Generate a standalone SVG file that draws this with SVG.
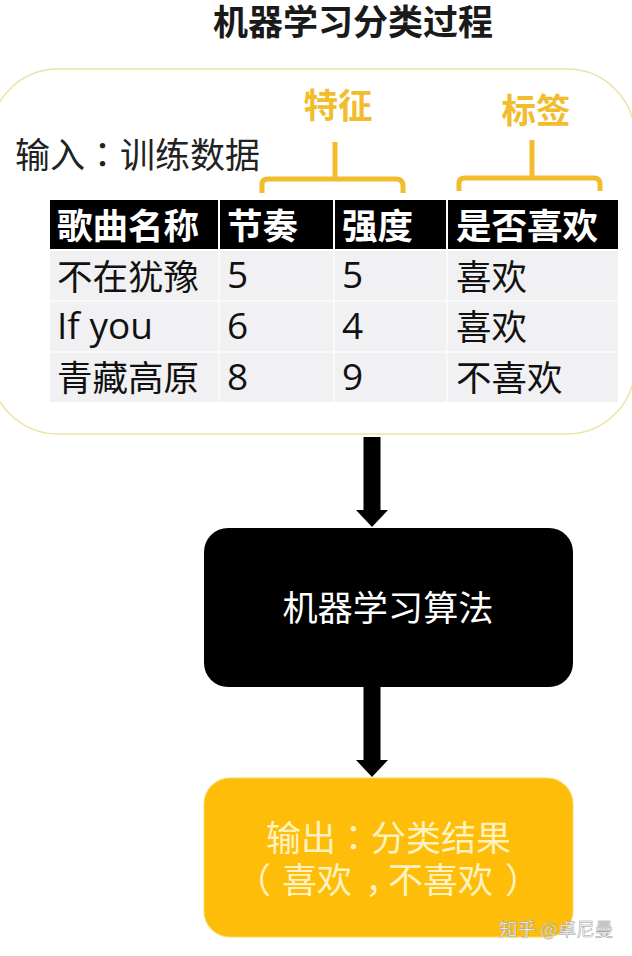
<svg xmlns="http://www.w3.org/2000/svg" width="632" height="956" viewBox="0 0 632 956">
<style>
text{font-family:"Noto Sans CJK SC","Liberation Sans",sans-serif}
.p{font-family:"Noto Sans CJK TC","Liberation Sans",sans-serif}
.h{font-size:35.5px;font-weight:700;fill:#fff}
.c{font-size:35.5px;fill:#111}
.n{font-size:37px;fill:#111;font-family:"Open Sans","Noto Sans","Liberation Sans",sans-serif}
.y{font-size:34.5px;font-weight:700;fill:#f2bc2c}
.b{fill:none;stroke:#f2bc2c;stroke-width:5}
.cell{fill:#f1f1f3}
.w{font-size:35.2px;fill:#fff}
.yw{font-size:35px;fill:#fff2c0}
.shaft{stroke:#000;stroke-width:17;fill:none}
</style>
<rect width="632" height="956" fill="#fff"/>
<text x="353" y="35" text-anchor="middle" font-size="35" font-weight="700" fill="#1a1a1a">机器学习分类过程</text>
<g id="connectors">
<path class="shaft" d="M372 437V511"/>
<path d="M356 510H388L372 527Z" fill="#000"/>
<path class="shaft" d="M372 686V761"/>
<path d="M356 760H388L372 777Z" fill="#000"/>
</g>
<g id="input">
<rect x="-10" y="69" width="645" height="365" rx="68" fill="#fff" stroke="#ece3a8" stroke-width="1.5"/>
<text x="15" y="168" font-size="35" fill="#222">输入<tspan class="p">：</tspan>训练数据</text>
<g id="feature-label">
<text x="338" y="118" text-anchor="middle" class="y">特征</text>
<path class="b" d="M335 142V177"/><path class="b" d="M262 193V184Q262 179 268 179H396Q403 179 403 186V193"/>
</g>
<g id="tag-label">
<text x="536" y="123" text-anchor="middle" class="y">标签</text>
<path class="b" d="M532 140V176"/><path class="b" d="M459 191V183Q459 178 465 178H594Q600 178 600 184V191"/>
</g>
<g id="table">
<rect x="50" y="251" width="568" height="151" fill="#f9f9fa"/>
<rect x="50" y="200" width="168" height="49"/><rect x="220" y="200" width="113" height="49"/><rect x="335" y="200" width="111" height="49"/><rect x="448" y="200" width="170" height="49"/>
<g class="cell">
<rect x="50" y="251" width="168" height="49"/><rect x="220" y="251" width="113" height="49"/><rect x="335" y="251" width="111" height="49"/><rect x="448" y="251" width="170" height="49"/>
<rect x="50" y="302" width="168" height="49"/><rect x="220" y="302" width="113" height="49"/><rect x="335" y="302" width="111" height="49"/><rect x="448" y="302" width="170" height="49"/>
<rect x="50" y="353" width="168" height="49"/><rect x="220" y="353" width="113" height="49"/><rect x="335" y="353" width="111" height="49"/><rect x="448" y="353" width="170" height="49"/>
</g>
<text x="57" y="239" class="h">歌曲名称</text><text x="227" y="239" class="h">节奏</text><text x="342" y="239" class="h">强度</text><text x="456" y="239" class="h">是否喜欢</text>
<text x="57" y="290" class="c">不在犹豫</text><text x="227" y="288" class="n">5</text><text x="342" y="288" class="n">5</text><text x="456" y="290" class="c">喜欢</text>
<text x="57" y="339" class="n">If you</text><text x="227" y="339" class="n">6</text><text x="342" y="339" class="n">4</text><text x="456" y="340" class="c">喜欢</text>
<text x="57" y="391" class="c">青藏高原</text><text x="227" y="390" class="n">8</text><text x="342" y="390" class="n">9</text><text x="456" y="391" class="c">不喜欢</text>
</g>
</g>
<g id="algorithm">
<rect x="204" y="528" width="369" height="159" rx="24" fill="#000"/>
<text x="388" y="621" text-anchor="middle" class="w">机器学习算法</text>
</g>
<g id="output">
<rect x="204" y="778" width="369" height="159" rx="26" fill="#fdbd08" stroke="#fcd65a" stroke-width="1"/>
<text x="266" y="851" class="yw">输出<tspan class="p">：</tspan>分类结果</text>
<text y="893" class="yw"><tspan x="236">（</tspan><tspan x="282">喜欢</tspan><tspan x="365">，</tspan><tspan x="388">不喜欢</tspan><tspan x="505">）</tspan></text>
</g>
<text x="499" y="936" font-size="18.5" fill="#fff" stroke="#999" stroke-width=".5">知乎 @卓尼曼</text>
</svg>
